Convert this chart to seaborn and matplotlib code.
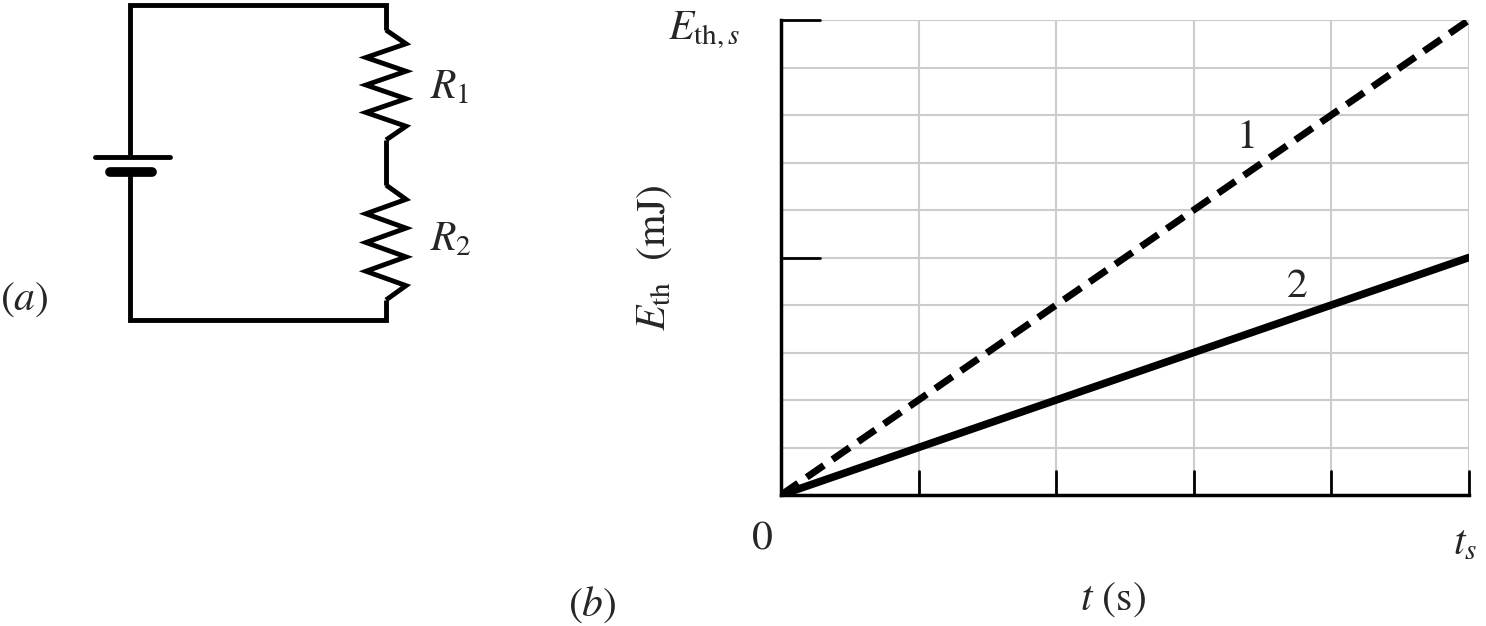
import matplotlib
matplotlib.use("Agg")
import matplotlib.pyplot as plt
import seaborn as sns
import numpy as np
import pandas as pd

sns.set_theme(style="white")
plt.rcParams['mathtext.fontset'] = 'stix'
plt.rcParams['font.family'] = ['STIXGeneral', 'DejaVu Serif']

t_vals = [0, 5]
line1 = [0, 10]
line2 = [0, 5]

W, H = 1486, 626
fig = plt.figure(figsize=(W/100, H/100), dpi=100)

ax = fig.add_axes([781/W, 1-495/H, (1469-781)/W, (495-20)/H])
ax.set_facecolor('white')
ax.set_xlim(0, 5); ax.set_ylim(0, 10)
ax.set_xticks(range(6)); ax.set_yticks(range(11))
ax.grid(True, color='#cccccc', lw=1.5)
ax.set_xticklabels([]); ax.set_yticklabels([])
for s in ax.spines.values():
    s.set_visible(False)
for n in ['left', 'bottom']:
    ax.spines[n].set_visible(True)
    ax.spines[n].set_linewidth(2.5)
    ax.spines[n].set_color('black')
ax.tick_params(length=0)
for x in range(1, 6):
    ax.plot([x, x], [0, 0.5], color='black', lw=2, clip_on=False)
for y in [5, 10]:
    ax.plot([0, 0.28], [y, y], color='black', lw=2, clip_on=False)
df = pd.DataFrame({'t': t_vals, 'l1': line1, 'l2': line2})
sns.lineplot(data=df, x='t', y='l1', ax=ax, color='black', lw=5, linestyle=(0, (3, 1.5)))
sns.lineplot(data=df, x='t', y='l2', ax=ax, color='black', lw=5.5)
ax.set_xlabel(''); ax.set_ylabel('')

bg = fig.add_axes([0, 0, 1, 1])
bg.patch.set_alpha(0)
bg.set_xlim(0, W); bg.set_ylim(H, 0); bg.axis('off')
lw = 3.5
k = dict(color='black', lw=lw, solid_capstyle='butt', solid_joinstyle='miter')
bg.plot([130, 130, 386, 386], [155, 5, 5, 30], **k)
bg.plot([130, 130, 386, 386], [172, 320, 320, 300], **k)
bg.plot([95, 170], [157, 157], color='black', lw=3.5)
bg.plot([110, 152], [172, 172], color='black', lw=7)
def zig(y0, y1):
    n = 4
    ys = np.linspace(y0, y1, 2*n+1)
    xs = [386] + [386 + (20 if i % 2 == 0 else -20) for i in range(2*n-1)] + [386]
    bg.plot(xs, ys, **k)
zig(30, 140)
bg.plot([386, 386], [140, 185], **k)
zig(185, 300)
fs = 30
bg.text(430, 88, r'$R_1$', fontsize=fs, va='center')
bg.text(430, 240, r'$R_2$', fontsize=fs, va='center')
bg.text(0, 300, r'$(a)$', fontsize=fs, va='center')
bg.text(568, 605, r'$(b)$', fontsize=fs, va='center')
bg.text(752, 540, '0', fontsize=fs, va='center')
bg.text(1453, 545, r'$t_s$', fontsize=fs, va='center')
bg.text(1080, 600, r'$t$ (s)', fontsize=fs, va='center')
bg.text(668, 30, r'$E_{\mathrm{th},s}$', fontsize=fs, va='center')
bg.text(655, 258, r'$E_{\mathrm{th}}$  (mJ)', fontsize=fs, va='center', ha='center', rotation=90)
bg.text(1236, 138, '1', fontsize=fs, va='center')
bg.text(1287, 287, '2', fontsize=fs, va='center')

fig.savefig('out.png', dpi=100)
